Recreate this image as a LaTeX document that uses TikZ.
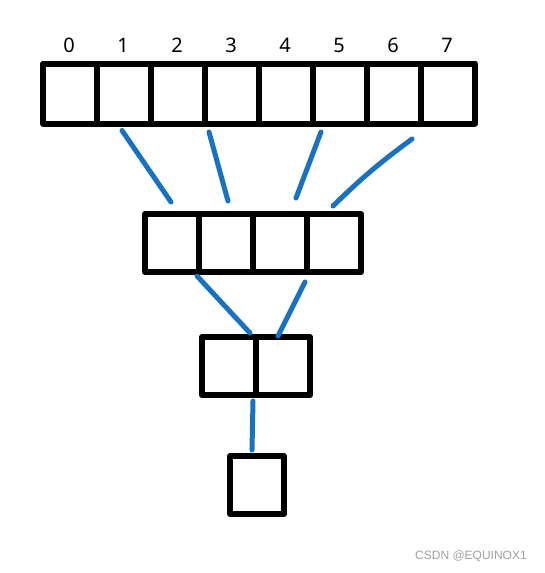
\documentclass[tikz,border=0pt]{standalone}
\usepackage{fontspec}
\setmainfont{Liberation Sans}
\newfontfamily\digitfont{Noto Sans}
\definecolor{linkblue}{HTML}{1971C2}
\definecolor{wmgray}{HTML}{A0A0A0}
\begin{document}
\begin{tikzpicture}[x=1pt,y=-1pt,
  cell/.style={draw=black, line width=6pt, line join=round, rectangle, minimum width=54pt, inner sep=0pt},
  toprow/.style={cell, minimum height=60pt},
  lowrow/.style={cell, minimum height=58pt},
  idx/.style={font=\digitfont\fontsize{20}{20}\selectfont, inner sep=0pt},
  link/.style={draw=linkblue, line width=5pt, line cap=round}]
\useasboundingbox (0,0) rectangle (544,573);
% top row
\foreach \i in {0,...,7} {
  \node[toprow] (t\i) at ({70+54*\i},93.5) {};
  \node[idx] (l\i) at ([yshift=15pt,xshift=-1pt]t\i.north) {\i};
}
% middle row
\foreach \i in {0,...,3} {
  \node[lowrow] (m\i) at ({172+54*\i},243) {};
}
% third row
\foreach \i in {0,1} {
  \node[lowrow] (b\i) at ({229+54*\i},366) {};
}
% bottom
\node[lowrow] (c) at (257,485) {};
% links
\draw[link] ([shift={(-2,4)}]t1.south) -- ([shift={(-1,-9)}]m0.north);
\draw[link] ([shift={(1,5.5)}]t2.south east) -- ([shift={(2,-10)}]m1.north);
\draw[link] ([shift={(5,5.5)}]t4.south east) -- ([shift={(-14,-13)}]m2.north east);
\draw[link] ([shift={(-6,12.5)}]t7.south west) to[bend right=4] ([shift={(-1,-5)}]m3.north);
\draw[link] ([shift={(-5,1)}]m0.south east) -- ([shift={(-9,-1)}]b0.north east);
\draw[link] ([shift={(1,7)}]m3.south west) -- ([shift={(-5,2)}]b1.north);
\draw[link] ([shift={(-6,3)}]b0.south east) -- ([shift={(-5,-3)}]c.north);
% watermark
\node[text=wmgray, font=\fontsize{12}{12}\selectfont, inner sep=0pt] (wm) at (471,556) {CSDN @EQUINOX1};
\end{tikzpicture}
\end{document}
